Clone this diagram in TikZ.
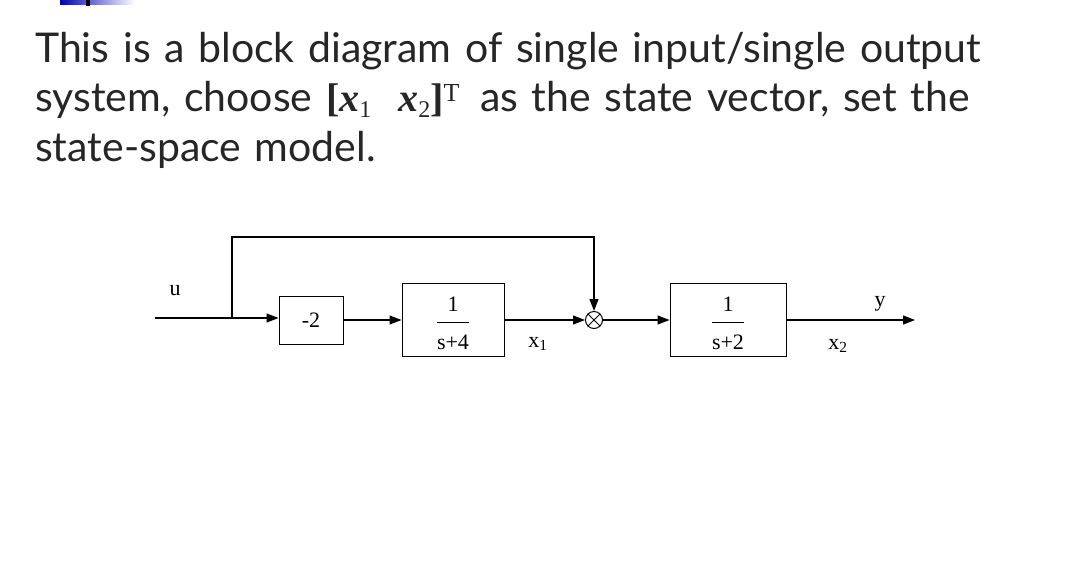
\documentclass[tikz,border=0pt]{standalone}
\usepackage{fontspec}
\setmainfont{Lato}
\newfontfamily\tms{Liberation Serif}
\usetikzlibrary{arrows.meta}
\begin{document}
\begin{tikzpicture}[x=1pt,y=-1pt,
  blk/.style={draw,line width=1pt,inner sep=0pt},
  ln/.style={line width=1.1pt},
  arr/.style={ln,-{Triangle[length=12pt,width=9pt]}},
  lbl/.style={font=\tms\fontsize{22}{22}\selectfont,inner sep=0pt}]
\useasboundingbox (0,0) rectangle (1080,587);
\shade[left color=blue!70!black,right color=white] (60,0) rectangle (135,4);
\fill (86,0) rectangle (90,6);
\node[anchor=base west,inner sep=0pt,font=\fontsize{41}{49.5}\selectfont,text=black!85,align=left,text width=1040pt] (title) at (35,62)
{This is a block diagram of single input/single output\\
system, choose {\tms\fontsize{40}{40}\selectfont\bfseries[\textit{x}\raisebox{-0.3ex}{\fontsize{24}{24}\selectfont\mdseries 1}\,\, \textit{x}\raisebox{-0.3ex}{\fontsize{24}{24}\selectfont\mdseries 2}]\raisebox{0.55ex}{\fontsize{26}{26}\selectfont\mdseries T}}\, as the state vector, set the\\
state-space model.};
\node[blk,minimum width=64pt,minimum height=48pt,lbl] (g) at (311,320) {-2};
\node[blk,minimum width=102pt,minimum height=73pt] (b1) at (453,320) {};
\node[blk,minimum width=116pt,minimum height=73pt] (b2) at (728,320) {};
\node[lbl] (n1) at (453,304) {1};
\node[lbl] (d1) at (453,342) {s+4};
\draw[line width=0.7pt] (437,322) -- (469,322);
\node[lbl] (n2) at (728,304) {1};
\node[lbl] (d2) at (728,342) {s+2};
\draw[line width=0.7pt] (712,322) -- (744,322);
\node[circle,draw,line width=1pt,minimum size=17pt,inner sep=0pt] (s) at (594,320) {};
\draw[line width=1pt] (s.north west) -- (s.south east) (s.north east) -- (s.south west);
\coordinate (in) at (155,318);
\coordinate (br) at (232,318);
\coordinate (out) at (915,320);
\draw[ln] (in) -- (br);
\draw[arr] (br) -- (g.west |- br);
\draw[arr] (br) -- (232,237) -- (594,237) -- (s.north);
\draw[arr] (g.east) -- (b1.west);
\draw[arr] (b1.east) -- (s.west);
\draw[arr] (s.east) -- (b2.west);
\draw[arr] (b2.east) -- (out);
\node[lbl] (u) at (175,291) {u};
\node[lbl] (y) at (880,304) {y};
\node[lbl] (x1) at (538,344) {x\textsubscript{1}};
\node[lbl] (x2) at (838,346) {x\textsubscript{2}};
\end{tikzpicture}
\end{document}
